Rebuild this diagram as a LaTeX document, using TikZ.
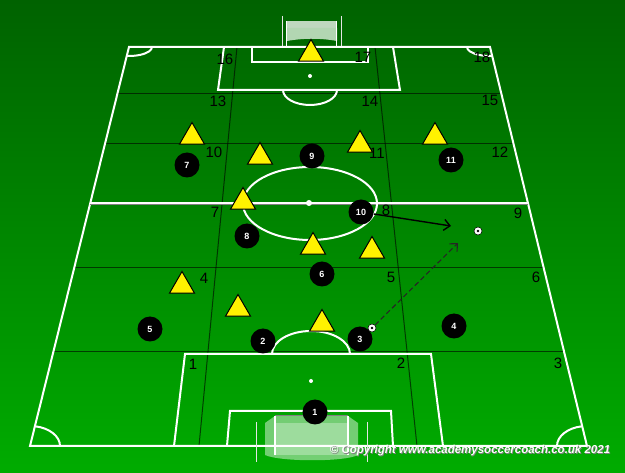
\documentclass[tikz,border=0pt]{standalone}
\usepackage{fontspec}
\setmainfont{Liberation Sans}
\usetikzlibrary{shapes.geometric,arrows.meta}

\definecolor{grasstop}{RGB}{0,98,0}
\definecolor{grassbottom}{RGB}{0,172,0}
\definecolor{netgreen}{RGB}{178,214,178}

\tikzset{
    pitchline/.style={white, line width=2},
    zoneline/.style={black, opacity=0.6, line width=1},
    zonenum/.style={inner sep=0, font=\fontsize{15}{15}\selectfont},
    player/.style={circle, fill=black, minimum size=25, inner sep=0, text=white, font=\bfseries\fontsize{9}{9}\selectfont},
    opp/.style={regular polygon, regular polygon sides=3, minimum size=29, inner sep=0, fill=yellow, draw=black, line width=1},
    ball/.style={circle, fill=white, draw=black, line width=0.5, minimum size=8, inner sep=0,
        path picture={\fill[black] (path picture bounding box.center) circle (1.4);}},
    runarrow/.style={-{Straight Barb[length=6,width=11]}, line width=1.4},
    passarrow/.style={-{Straight Barb[length=6,width=11]}, line width=1.1, dash pattern=on 5 off 3, black!85}
}

\begin{document}
\begin{tikzpicture}[x=1pt, y=-1pt]
        \useasboundingbox (0,0) rectangle (625,473);
        \shade[top color=grasstop, bottom color=grassbottom] (0,0) rectangle (625,473);

        \begin{scope}
            % zones
            \draw[zoneline] (117,94) -- (502,94);
            \draw[zoneline] (105,144) -- (514,144);
            \draw[zoneline] (74,268) -- (544,268);
            \draw[zoneline] (53,352) -- (565,352);
            \draw[zoneline] (237,47) -- (199,446);
            \draw[zoneline] (375,47) -- (417,446);

            % pitch
            \draw[pitchline] (129,47) -- (490,47) -- (587,446) -- (30,446) -- cycle;
            \draw[gray, line width=1] (90,205) -- (528,205);
            \draw[pitchline] (90,203) -- (528,203);
            \draw[pitchline] (310,203.5) ellipse [x radius=67, y radius=36.5];
            \fill[white] (309,203) circle (3);

            \draw[pitchline] (224,47) -- (218,90) -- (400,90) -- (393,47);
            \draw[pitchline] (252,47) -- (252,62) -- (368,62) -- (368,47);
            \fill[white] (310,76) circle (2);
            \draw[pitchline] (283,90) arc [start angle=180, end angle=0, x radius=27, y radius=15];

            \draw[pitchline] (174,446) -- (185,354) -- (431,354) -- (443,446);
            \draw[pitchline] (227,446) -- (230,411) -- (391,411) -- (393,446);
            \fill[white] (311,381) circle (2);
            \draw[pitchline] (272,354) arc [start angle=180, end angle=360, x radius=39, y radius=23];

            \draw[pitchline] (152,47) arc [start angle=0, end angle=97, x radius=23, y radius=9];
            \draw[pitchline] (467,47) arc [start angle=180, end angle=83, x radius=23, y radius=9];
            \draw[pitchline] (60,446) arc [start angle=0, end angle=-80, x radius=30, y radius=20];
            \draw[pitchline] (557,446) arc [start angle=180, end angle=260, x radius=30, y radius=20];
        \end{scope}

        \begin{scope}
            % goals
            \draw[white!80!gray, line width=0.6] (282,16) -- (282,46) (341,16) -- (341,46);
            \fill[white, opacity=0.75] (286,21) rectangle (337,28);
            \fill[netgreen] (287,28) -- (337,28) -- (337,41) .. controls (320,38) and (304,38) .. (287,41) -- cycle;
            \draw[white, line width=1.5] (286.5,21) -- (286.5,46) (336.5,21) -- (336.5,46);

            \draw[white!80!gray, line width=0.6] (256,422) -- (256,462) (367,422) -- (367,462);
            \fill[white, opacity=0.45] (265,423) -- (275,416) -- (348,416) -- (358,423) -- (358,455)
                .. controls (345,462) and (280,462) .. (265,455) -- cycle;
            \fill[white, opacity=0.3] (275,423) rectangle (348,455);
            \draw[white, line width=2] (275,416) -- (275,455) (348,416) -- (348,455);
            \draw[gray, line width=1] (275,416) -- (348,416);
        \end{scope}

        % zone numbers
        \node[zonenum] (z1) at (193,364) {1};
        \node[zonenum] (z2) at (401,363) {2};
        \node[zonenum] (z3) at (558,363) {3};
        \node[zonenum] (z4) at (204,278) {4};
        \node[zonenum] (z5) at (391,277) {5};
        \node[zonenum] (z6) at (536,277) {6};
        \node[zonenum] (z7) at (215,212) {7};
        \node[zonenum] (z8) at (386,210) {8};
        \node[zonenum] (z9) at (518,213) {9};
        \node[zonenum] (z10) at (214,152) {10};
        \node[zonenum] (z11) at (377,153) {11};
        \node[zonenum] (z12) at (500,152) {12};
        \node[zonenum] (z13) at (218,101) {13};
        \node[zonenum] (z14) at (370,101) {14};
        \node[zonenum] (z15) at (490,100) {15};
        \node[zonenum] (z16) at (225,59) {16};
        \node[zonenum] (z17) at (363,57) {17};
        \node[zonenum] (z18) at (482,57) {18};

        % opponents
        \node[opp] (o1) at (311,54) {};
        \node[opp] (o2) at (192,137) {};
        \node[opp] (o3) at (260,157) {};
        \node[opp] (o4) at (360,145) {};
        \node[opp] (o5) at (435,137) {};
        \node[opp] (o6) at (243,202) {};
        \node[opp] (o7) at (313,247) {};
        \node[opp] (o8) at (372,251) {};
        \node[opp] (o9) at (182,286) {};
        \node[opp] (o10) at (238,309) {};
        \node[opp] (o11) at (322,324) {};

        % players
        \node[player] (p1) at (315,412) {1};
        \node[player] (p2) at (263,341) {2};
        \node[player] (p3) at (360,339) {3};
        \node[player] (p4) at (454,326) {4};
        \node[player] (p5) at (150,329) {5};
        \node[player] (p6) at (322,274) {6};
        \node[player] (p7) at (187,165) {7};
        \node[player] (p8) at (247,236) {8};
        \node[player] (p9) at (312,156) {9};
        \node[player] (p10) at (361,212) {10};
        \node[player] (p11) at (451,160) {11};

        % ball and movement
        \node[ball] (ball1) at (372,328) {};
        \node[ball] (ball2) at (478,231) {};
        \coordinate (run10) at (451,226);
        \coordinate (pass3) at (458,243);
        \draw[runarrow] (p10) -- (run10);
        \draw[passarrow] (ball1) -- (pass3);

        \node[gray, font=\bfseries\itshape\fontsize{11.5}{11.5}\selectfont] (copyshadow) at (470.8,451.8) {© Copyright www.academysoccercoach.co.uk 2021};
        \node[white, font=\bfseries\itshape\fontsize{11.5}{11.5}\selectfont] (copyright) at (470,451) {© Copyright www.academysoccercoach.co.uk 2021};
\end{tikzpicture}
\end{document}
